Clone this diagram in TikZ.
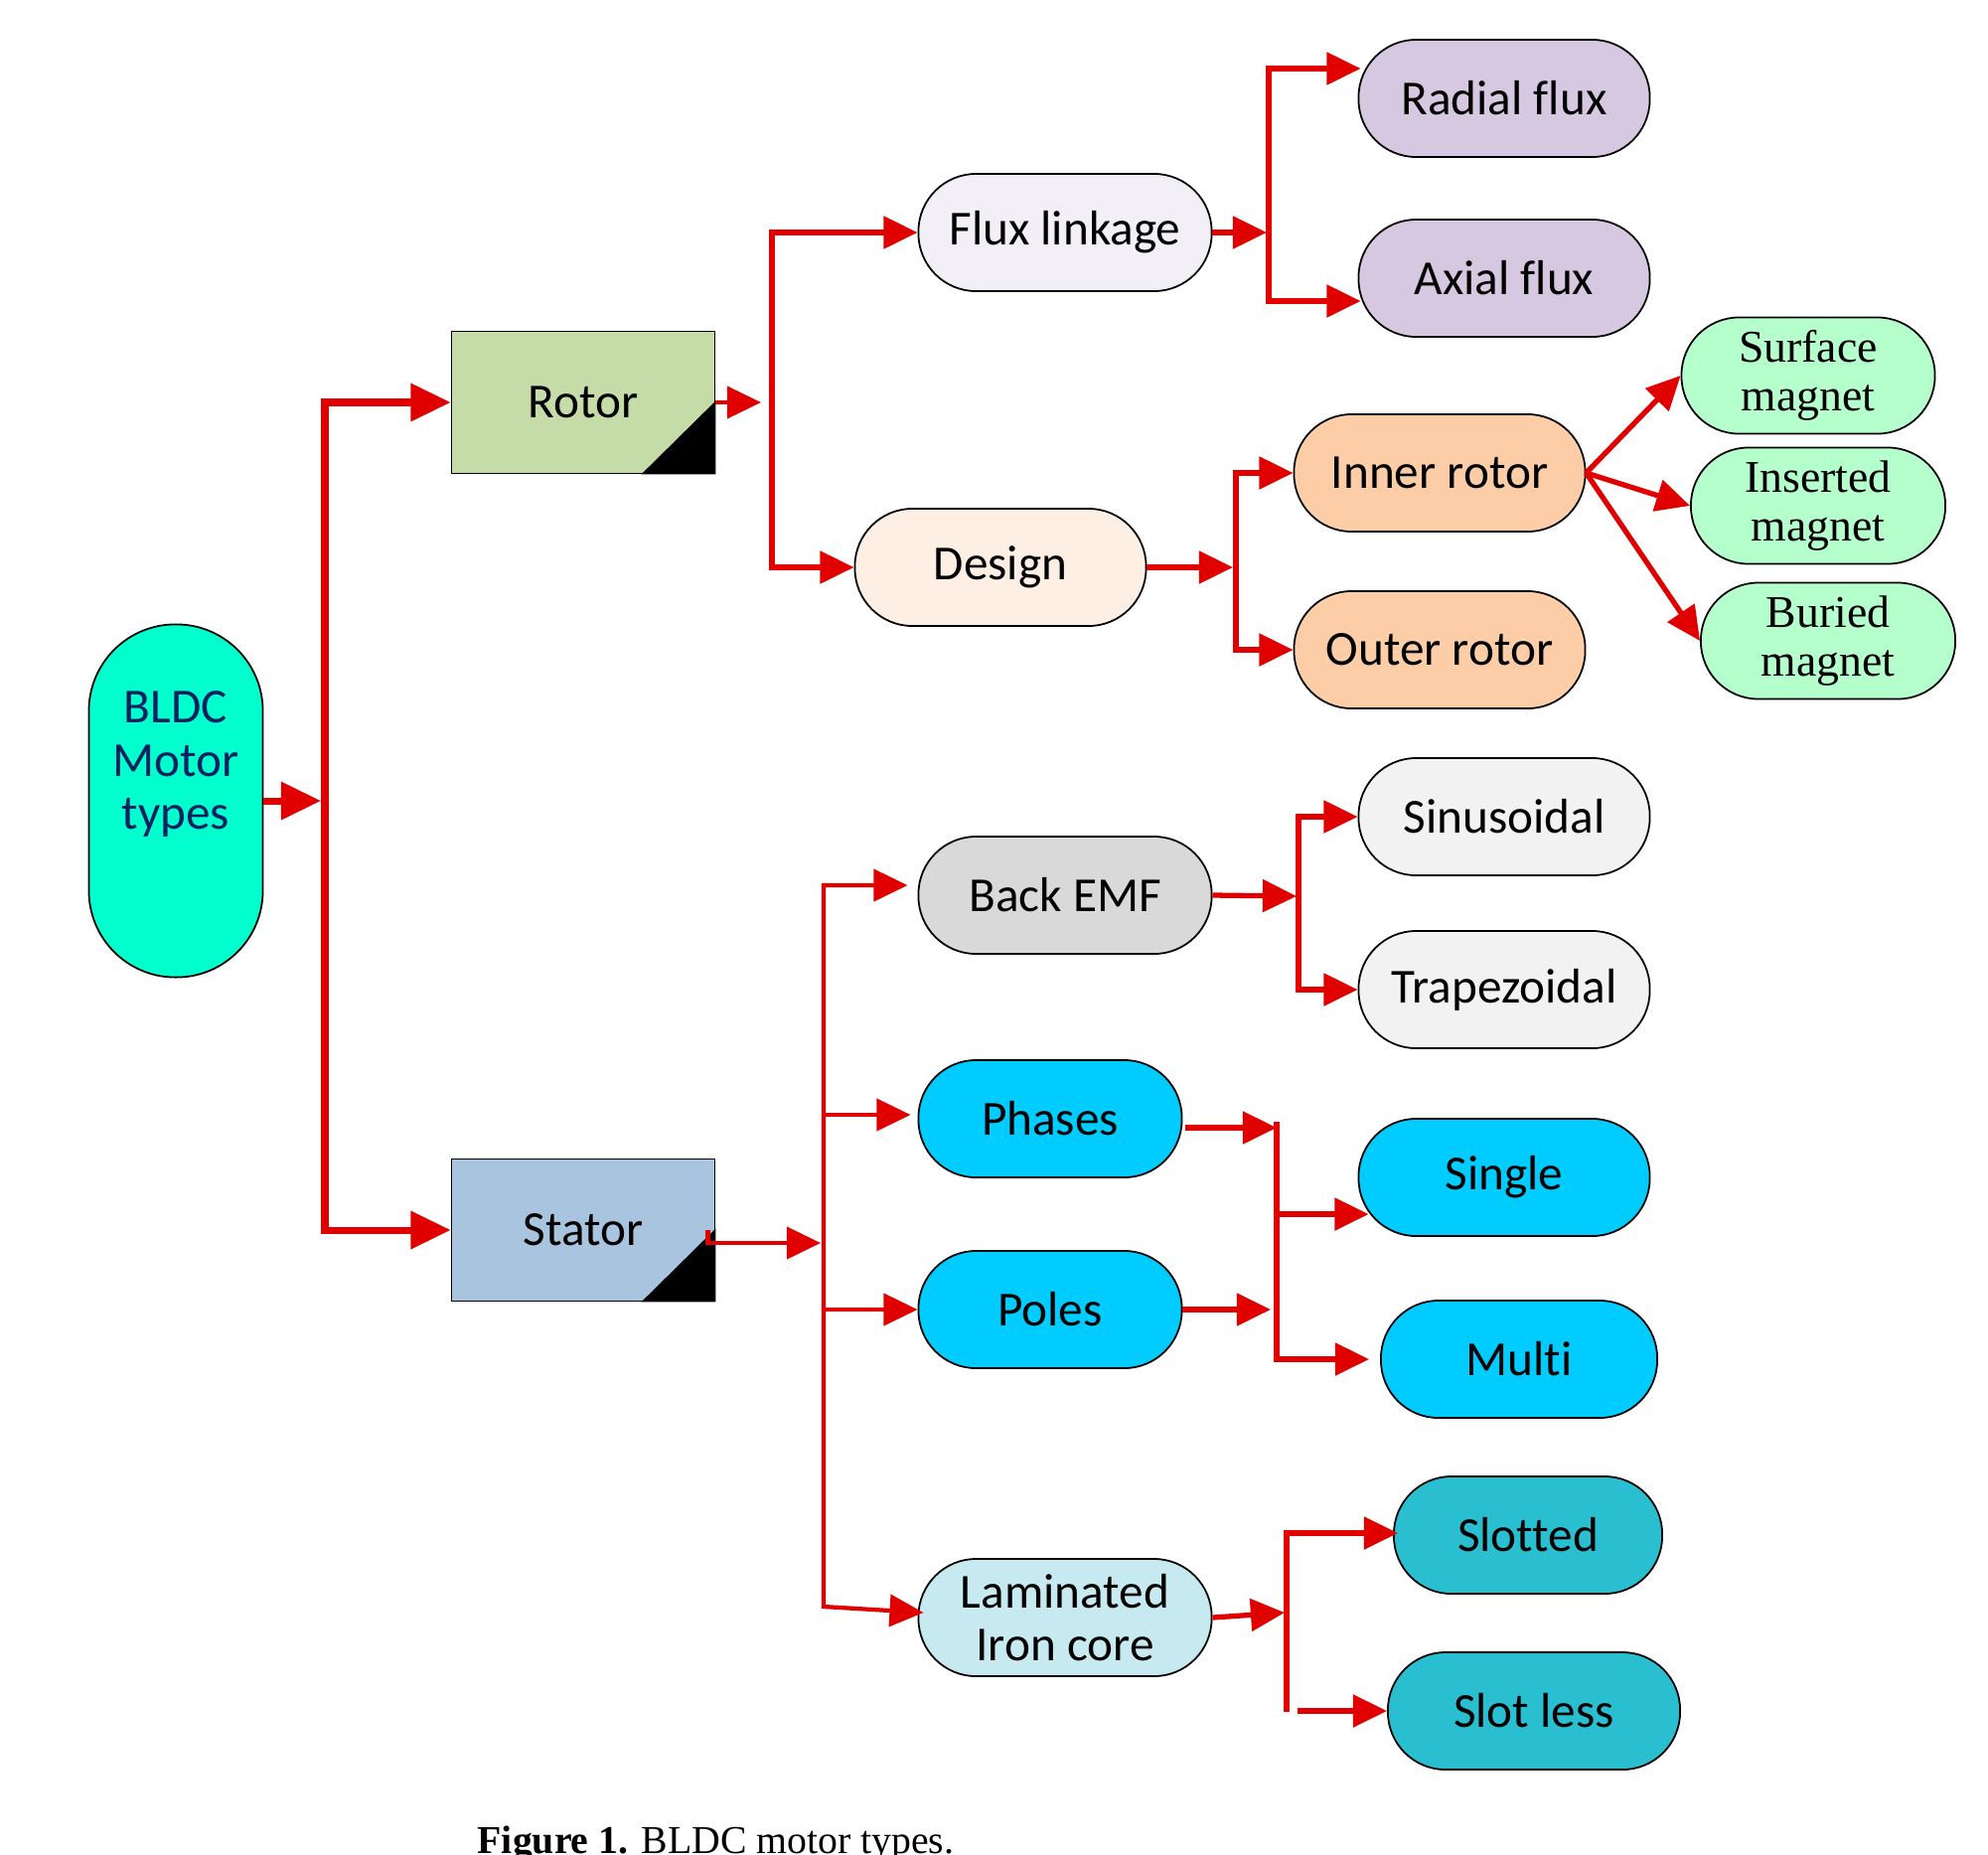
\documentclass[tikz,border=0pt]{standalone}
\usepackage{fontspec}
\setmainfont[Ligatures=NoCommon]{Carlito}
\newfontfamily\serifface{Liberation Serif}
\usetikzlibrary{arrows.meta,calc}

\definecolor{linkred}{HTML}{E00000}
\definecolor{navytext}{HTML}{002060}
\definecolor{motorfill}{HTML}{00FFCC}
\definecolor{rotorfill}{HTML}{C5DCA8}
\definecolor{statorfill}{HTML}{A9C4DE}
\definecolor{fluxfill}{HTML}{F2EFF6}
\definecolor{designfill}{HTML}{FDEFE3}
\definecolor{radialfill}{HTML}{D6C8E0}
\definecolor{innerfill}{HTML}{FCCDA6}
\definecolor{magnetfill}{HTML}{B4FFCC}
\definecolor{emffill}{HTML}{D9D9D9}
\definecolor{wavefill}{HTML}{F2F2F2}
\definecolor{polefill}{HTML}{00CCFF}
\definecolor{laminfill}{HTML}{C7EAF1}
\definecolor{slotfill}{HTML}{29BFD1}

\tikzset{
  pill/.style={draw=black, line width=0.5pt, rounded corners=0.58cm,
    minimum width=2.93cm, minimum height=1.18cm, inner sep=0pt,
    align=center, font=\fontsize{14}{15.2}\selectfont},
  magnet/.style={pill, fill=magnetfill, minimum width=2.56cm, minimum height=1.17cm,
    font=\serifface\fontsize{13}{14}\selectfont},
  part/.style={draw=black, line width=0.5pt, minimum width=2.65cm,
    minimum height=1.43cm, font=\fontsize{14}{15.2}\selectfont},
  feed/.style={draw=linkred, line width=1.5pt, -{Triangle[length=9.7pt,width=9.1pt]}},
  fork/.style={draw=linkred, line width=1.5pt,
    {Triangle[length=9.7pt,width=9.1pt]}-{Triangle[length=9.7pt,width=9.1pt]}},
  bigfeed/.style={draw=linkred, line width=2pt, -{Triangle[length=11.4pt,width=10.5pt]}},
  bigfork/.style={draw=linkred, line width=2pt,
    {Triangle[length=11.4pt,width=10.5pt]}-{Triangle[length=11.4pt,width=10.5pt]}},
}

\begin{document}
\begin{tikzpicture}[x=0.01cm,y=-0.01cm]
\useasboundingbox (0,0) rectangle (2001,1866);

% root
\node [draw=black, line width=0.5pt, fill=motorfill, rounded corners=0.87cm,
  minimum width=1.75cm, minimum height=3.55cm] (bldc) at (177,806) {};
\node [align=center, text=navytext, font=\fontsize{14}{15.2}\selectfont]
  (bldctext) at ([yshift=0.37cm]bldc.center) {BLDC\\Motor\\types};

% rotor and stator
\node [part, fill=rotorfill] (rotor) at (587,405) {Rotor};
\fill (rotor.south east) -- ++(-75,0) -- ++(75,-74) -- cycle;
\node [part, fill=statorfill] (stator) at (587,1238) {Stator};
\fill (stator.south east) -- ++(-75,0) -- ++(75,-74) -- cycle;

% rotor side
\node [pill, fill=fluxfill, minimum width=2.95cm] (flux) at (1072,234) {Flux linkage};
\node [pill, fill=designfill] (design) at (1007,571) {Design};
\node [pill, fill=radialfill] (radial) at (1514,99) {Radial flux};
\node [pill, fill=radialfill] (axial) at (1514,280) {Axial flux};
\node [pill, fill=innerfill] (inner) at (1449,476) {Inner rotor};
\node [pill, fill=innerfill] (outer) at (1449,654) {Outer rotor};
\node [magnet, minimum width=2.55cm] (surface) at (1820,378) {Surface\\magnet};
\node [magnet] (inserted) at (1830,509) {Inserted\\magnet};
\node [magnet] (buried) at (1840,645) {Buried\\magnet};

% stator side
\node [pill, fill=emffill, minimum width=2.95cm] (emf) at (1072,901) {Back EMF};
\node [pill, fill=polefill, minimum width=2.65cm] (phases) at (1057,1126) {Phases};
\node [pill, fill=polefill, minimum width=2.65cm] (poles) at (1057,1318) {Poles};
\node [pill, fill=laminfill, minimum width=2.95cm] (lamin) at (1072,1628) {Laminated\\Iron core};
\node [pill, fill=wavefill] (sinus) at (1514,822) {Sinusoidal};
\node [pill, fill=wavefill] (trap) at (1514,996) {Trapezoidal};
\node [pill, fill=polefill] (single) at (1514,1185) {Single};
\node [pill, fill=polefill, minimum width=2.78cm] (multi) at (1529,1368) {Multi};
\node [pill, fill=slotfill, minimum width=2.70cm] (slotted) at (1538,1545) {Slotted};
\node [pill, fill=slotfill, minimum width=2.94cm] (slotless) at (1544,1722) {Slot less};

% main branch
\coordinate (mainfork) at (327,806);
\draw [bigfeed] (bldc.east) -- ($(mainfork)+(-4,0)$);
\draw [bigfork] (rotor.west) -- (mainfork |- rotor.west) -- (mainfork |- stator.west) -- (stator.west);

% rotor branches
\coordinate (rotorfork) at (777,405);
\draw [feed, line width=1.2pt] (rotor.east) -- ($(rotorfork)+(-11,0)$);
\draw [fork] (flux.west) -- (rotorfork |- flux.west) -- (rotorfork |- design.west) -- (design.west);

\coordinate (fluxfork) at (1277,234);
\draw [feed] (flux.east) -- ($(fluxfork)+(-2,0)$);
\draw [fork] ($(radial.west)+(3,-30)$) -- (fluxfork |- 0,69) -- (fluxfork |- 0,303) -- ($(axial.west)+(3,23)$);

\coordinate (designfork) at (1244,571);
\draw [feed] (design.east) -- ($(designfork)+(-3,0)$);
\draw [fork] (inner.west) -- (designfork |- inner.west) -- (designfork |- outer.west) -- (outer.west);

\draw [feed] (inner.east) -- (surface.west);
\draw [feed] (inner.east) -- (inserted.west);
\draw [feed] (inner.east) -- (buried.west);

% stator branches
\coordinate (statorfork) at (829,1251);
\draw [feed, line width=1.2pt] ($(stator.east)+(-8,0)$) -- ++(0,13) -- ($(statorfork)+(-3,0)$);
\draw [fork, line width=1.2pt] ($(emf.west)+(-10,-10)$) -- (statorfork |- 0,891) -- (statorfork |- 0,1617) -- ($(lamin.west)+(6,-5)$);
\draw [feed, line width=1.2pt] (statorfork |- 0,1122) -- ($(phases.west)+(-7,-4)$);
\draw [feed, line width=1.2pt] (statorfork |- poles.west) -- (poles.west);

\coordinate (emffork) at (1307,902);
\draw [feed] (emf.east) -- ($(emffork)+(-2,0)$);
\draw [fork] (sinus.west) -- (emffork |- sinus.west) -- (emffork |- trap.west) -- (trap.west);

\coordinate (polefork) at (1285,1250);
\draw [feed] ($(phases.east)+(3,9)$) -- (polefork |- 0,1135);
\draw [feed] (poles.east) -- ($(polefork |- poles.east)+(-6,0)$);
\draw [feed] (polefork |- 0,1129) -- (polefork |- multi.west) -- ($(multi.west)+(-11,0)$);
\draw [feed] (polefork |- 0,1222) -- ($(single.west)+(11,37)$);

\coordinate (laminfork) at (1295,1625);
\draw [feed] (lamin.east) -- ($(laminfork)+(-2,-2)$);
\draw [feed] (laminfork |- 0,1723) -- (laminfork |- 0,1543) -- ($(slotted.west)+(5,-2)$);
\draw [feed] ($(laminfork |- slotless.west)+(11,0)$) -- (slotless.west);

% caption
\node [anchor=base west, inner sep=0pt, font=\serifface\fontsize{11.3}{13}\selectfont]
  (caption) at (480,1865) {\textbf{Figure 1.} BLDC motor types.};
\end{tikzpicture}
\end{document}
